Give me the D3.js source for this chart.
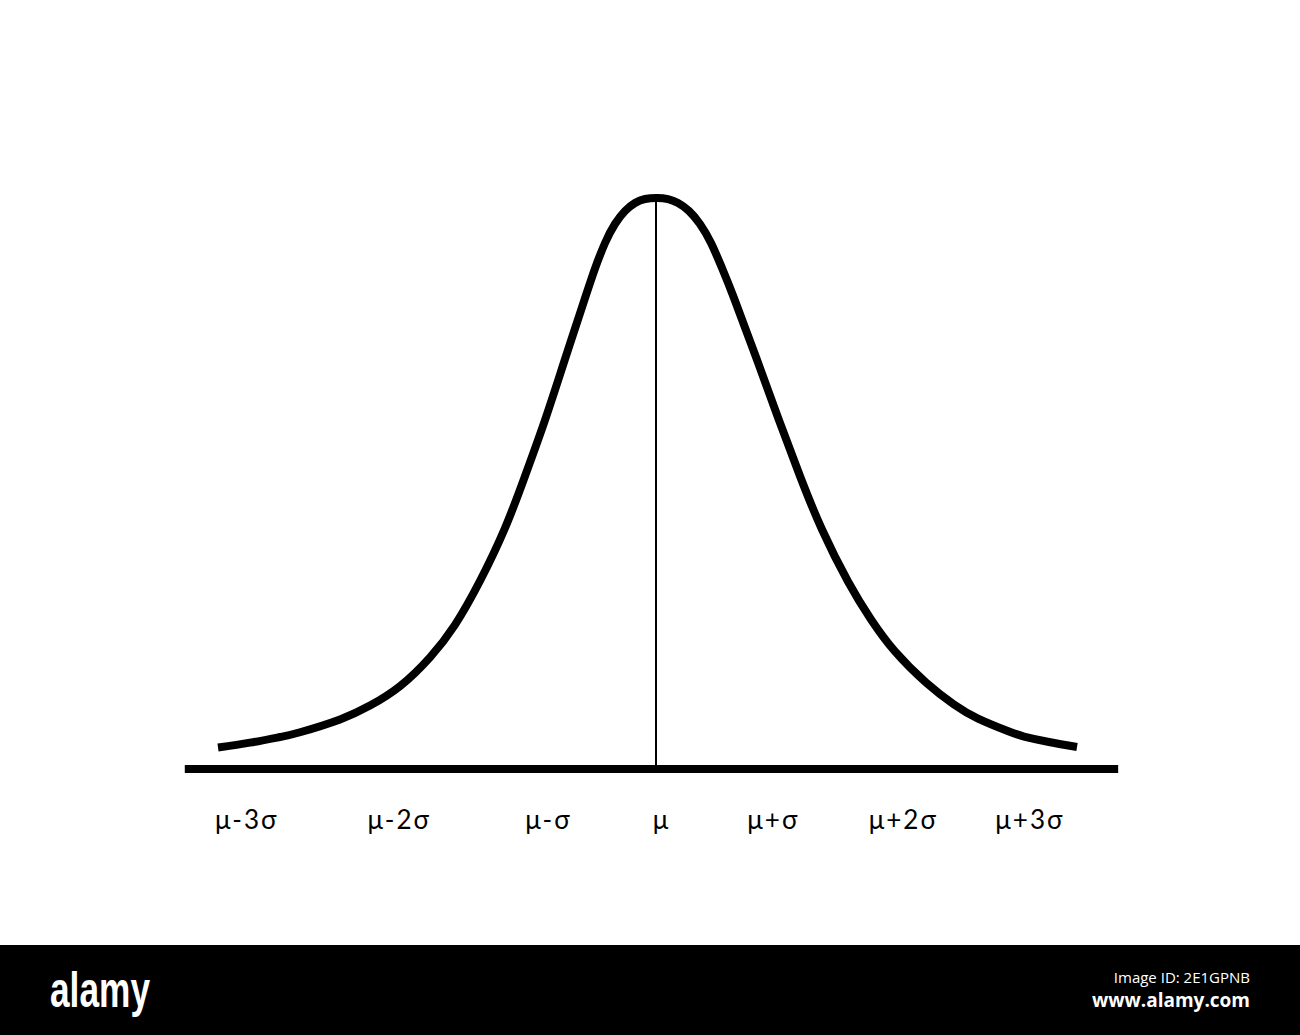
<!DOCTYPE html>
<html>
<head>
<meta charset="utf-8">
<script src="https://cdn.jsdelivr.net/npm/d3@7"></script>
<style>
  html, body { margin: 0; padding: 0; background: #fff; }
  svg { display: block; }
</style>
</head>
<body>
<div id="chart"></div>
<script>
// Curve: x in sigma-like units (0 = centre), y = relative height (peak = 1)
const curveX = [-3.876, -3.593, -3.327, -3.150, -2.796, -2.531, -2.265, -2.000, -1.779, -1.558, -1.336, -1.159, -0.982, -0.805, -0.628, -0.540, -0.451, -0.363, -0.274, -0.186, -0.097, 0.009,
                0.106, 0.195, 0.292, 0.389, 0.487, 0.584, 0.690, 0.894, 1.088, 1.274, 1.469, 1.699, 1.903, 2.115, 2.389, 2.637, 2.850, 3.124, 3.257, 3.478, 3.726];
const curveY = [0.0377, 0.0461, 0.0560, 0.0644, 0.0869, 0.1110, 0.1452, 0.1956, 0.2525, 0.3292, 0.4221, 0.5131, 0.6112, 0.7180, 0.8249, 0.8765, 0.9212, 0.9545, 0.9772, 0.9912, 0.9982, 1.0000,
                0.9980, 0.9912, 0.9772, 0.9545, 0.9212, 0.8774, 0.8249, 0.7163, 0.6112, 0.5131, 0.4194, 0.3284, 0.2618, 0.2058, 0.1515, 0.1130, 0.0884, 0.0657, 0.0569, 0.0473, 0.0385];

// Axis labels and their positions along the axis (same units as curveX)
const tickLabels = ["μ-3σ", "μ-2σ", "μ-σ", "μ", "μ+σ", "μ+2σ", "μ+3σ"];
const tickPos    = [-3.63, -2.28, -0.96, 0.04, 1.03, 2.18, 3.30];

// Axis extent and mean line
const axisExtent = [-4.17, 4.09];
const meanX = 0.0;

const W = 1300, H = 1035;
const svg = d3.select("#chart").append("svg").attr("width", W).attr("height", H);
svg.append("rect").attr("width", W).attr("height", H).attr("fill", "#fff");

const x = d3.scaleLinear().domain([-4, 4]).range([204, 1108]);
const y = d3.scaleLinear().domain([0, 1]).range([769, 198]);

const pts = curveX.map((v, i) => [v, curveY[i]]);

// mean line
svg.append("line")
  .attr("x1", x(meanX)).attr("x2", x(meanX))
  .attr("y1", y(0)).attr("y2", y(1))
  .attr("stroke", "#000").attr("stroke-width", 2);

// curve
const line = d3.line().x(d => x(d[0])).y(d => y(d[1])).curve(d3.curveNatural);
svg.append("path")
  .attr("d", line(pts))
  .attr("fill", "none")
  .attr("stroke", "#000")
  .attr("stroke-width", 8)
  .attr("stroke-linecap", "butt");

// baseline axis
svg.append("line")
  .attr("x1", x(axisExtent[0])).attr("x2", x(axisExtent[1]))
  .attr("y1", y(0)).attr("y2", y(0))
  .attr("stroke", "#000").attr("stroke-width", 8);

// tick labels
svg.append("g").selectAll("text")
  .data(tickLabels)
  .join("text")
  .attr("x", (d, i) => x(tickPos[i]) + 1)
  .attr("y", 829)
  .attr("text-anchor", "middle")
  .attr("font-family", "Lato, 'Open Sans', sans-serif")
  .attr("font-size", 26)
  .attr("letter-spacing", 2)
  .attr("fill", "#000")
  .text(d => d);

// bottom band
svg.append("rect").attr("x", 0).attr("y", 945).attr("width", W).attr("height", H - 945).attr("fill", "#000");
svg.append("text")
  .attr("x", 50).attr("y", 1007)
  .attr("font-family", "'Liberation Sans Narrow', 'Liberation Sans', sans-serif")
  .attr("font-weight", "bold")
  .attr("font-size", 50)
  .attr("textLength", 100)
  .attr("lengthAdjust", "spacingAndGlyphs")
  .attr("fill", "#fff")
  .text("alamy");
svg.append("text")
  .attr("x", 1250).attr("y", 983)
  .attr("text-anchor", "end")
  .attr("font-family", "'Open Sans', sans-serif")
  .attr("font-size", 15)
  .attr("fill", "#fff")
  .text("Image ID: 2E1GPNB");
svg.append("text")
  .attr("x", 1250).attr("y", 1007)
  .attr("text-anchor", "end")
  .attr("font-family", "'Open Sans', sans-serif")
  .attr("font-weight", "bold")
  .attr("font-size", 19)
  .attr("fill", "#fff")
  .text("www.alamy.com");
</script>
</body>
</html>
